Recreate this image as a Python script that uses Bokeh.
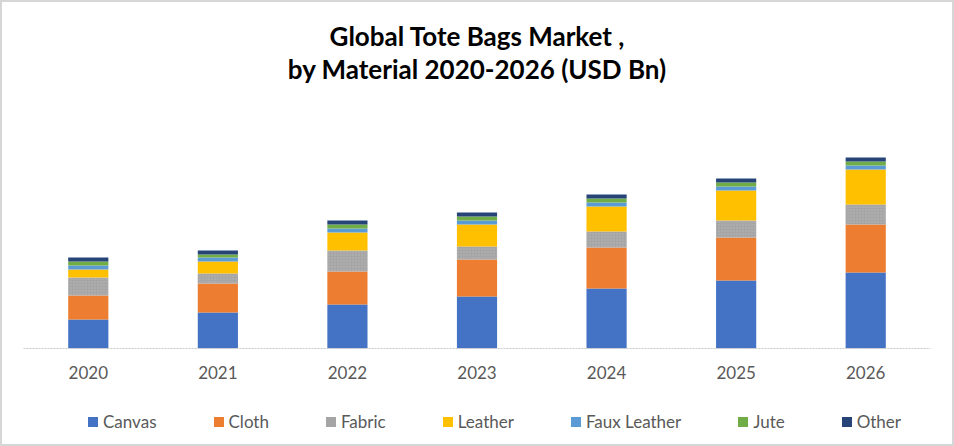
from bokeh.plotting import figure
from bokeh.models import FactorRange, Range1d, ColumnDataSource, Div
from bokeh.layouts import column
from bokeh.embed import file_html
from bokeh.resources import INLINE

years = ["2020", "2021", "2022", "2023", "2024", "2025", "2026"]
materials = ["Canvas", "Cloth", "Fabric", "Leather", "Faux Leather", "Jute", "Other"]
canvas = [2.9, 3.6, 4.4, 5.2, 6.0, 6.8, 7.6]
cloth = [2.4, 2.9, 3.3, 3.7, 4.1, 4.3, 4.8]
fabric = [1.8, 1.0, 2.1, 1.3, 1.6, 1.7, 2.0]
leather = [0.8, 1.2, 1.8, 2.2, 2.5, 3.0, 3.5]
faux_leather = [0.4, 0.4, 0.4, 0.4, 0.4, 0.4, 0.4]
jute = [0.4, 0.3, 0.4, 0.4, 0.4, 0.4, 0.4]
other = [0.4, 0.4, 0.4, 0.4, 0.4, 0.4, 0.4]
colors = ["#4472C4", "#ED7D31", "#A5A5A5", "#FFC000", "#5B9BD5", "#70AD47", "#264478"]
title_lines = ["Global Tote Bags Market ,", "by Material 2020-2026 (USD Bn)"]

source = ColumnDataSource(data={
    "years": years, "Canvas": canvas, "Cloth": cloth, "Fabric": fabric,
    "Leather": leather, "Faux Leather": faux_leather, "Jute": jute, "Other": other,
})

title_div = Div(
    text=('<div style="font-family:Lato;font-weight:bold;font-size:26px;line-height:33px;'
          'text-align:center;color:#000000;padding-top:20px;width:954px;">'
          + "<br>".join(title_lines) + "</div>"),
    width=954, height=88, margin=(0, 0, 0, 0))

p = figure(width=954, height=322, x_range=FactorRange(*years), y_range=Range1d(0, 24),
           output_backend="svg", toolbar_location=None, title=None,
           min_border_left=23, min_border_right=24, min_border_top=20, min_border_bottom=62,
           margin=(0, 0, 0, 0))
p.x_range.range_padding = 0
p.border_fill_color = None
p.background_fill_color = None

renderers = p.vbar_stack(materials, x="years", width=0.31, source=source,
                         color=colors, line_color=None,
                         hatch_pattern=[" ", " ", ".", " ", " ", " ", " "],
                         hatch_color="#B8B8B8", hatch_scale=3, hatch_weight=1)

p.yaxis.visible = False
p.xgrid.grid_line_color = None
p.ygrid.grid_line_color = None
p.outline_line_color = None
p.xaxis.major_tick_line_color = None
p.xaxis.minor_tick_line_color = None
p.xaxis.axis_line_color = "#C8C8C8"
p.xaxis.axis_line_dash = "2 1"
p.xaxis.major_label_standoff = 11
p.xaxis.major_label_text_font = "Lato"
p.xaxis.major_label_text_font_size = "17px"
p.xaxis.major_label_text_color = "#595959"

items_html = "".join(
    '<span style="display:inline-block;width:10px;height:10px;background:%s;'
    'margin-right:5px;vertical-align:middle;"></span>'
    '<span style="display:inline-block;margin-right:57px;vertical-align:middle;">%s</span>'
    % (c, m) for m, c in zip(materials, colors))
legend_div = Div(
    text=('<div style="font-family:Lato;font-size:17px;color:#595959;line-height:20px;'
          'white-space:nowrap;padding-left:88px;width:866px;">' + items_html + "</div>"),
    width=954, height=36, margin=(0, 0, 0, 0))

layout = column(title_div, p, legend_div, spacing=0, margin=(0, 0, 0, 0),
                styles={"outline": "2px solid #D6D6D6", "outline-offset": "-2px"})
open("out.html", "w").write(file_html(layout, INLINE))
